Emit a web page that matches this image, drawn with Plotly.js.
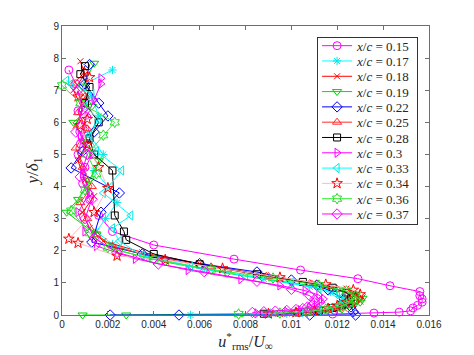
<!DOCTYPE html>
<html>
<head>
<meta charset="utf-8">
<script src="https://cdn.plot.ly/plotly-3.0.1.min.js"></script>
<style>html,body{margin:0;padding:0;background:#fff;}#chart{width:474px;height:355px;}</style>
</head>
<body>
<div id="chart"></div>
<script>
// Series labels (x/c stations)
const labels = ["0.15","0.17","0.18","0.19","0.22","0.25","0.28","0.3","0.33","0.34","0.36","0.37"];

// u*_rms/U_inf values (x) and y/delta1 values (y) per station
const u015 = [0.0118,0.0136,0.0147,0.0152,0.0153,0.0155,0.0157,0.0157,0.0156,0.0156,0.0143,0.0129,0.0104,0.0075,0.0040,0.0022,0.0016,0.0012,0.0009,0.0010,0.0007,0.0008,0.0010,0.0007,0.0012,0.0006,0.0003];
const y015 = [0.03,0.06,0.09,0.13,0.22,0.30,0.40,0.50,0.60,0.73,0.91,1.13,1.40,1.74,2.18,2.6,3.1,3.6,4.1,4.6,5.0,5.33,5.8,6.36,6.8,7.2,7.63];

const u017 = [0.0056,0.0098,0.0110,0.0116,0.0120,0.0122,0.0123,0.0121,0.0117,0.0108,0.0088,0.0062,0.0038,0.0022,0.0015,0.0019,0.0024,0.0020,0.0014,0.0018,0.0012,0.0016,0.0013,0.0010,0.0022];
const y017 = [0.0,0.04,0.08,0.14,0.22,0.32,0.45,0.58,0.72,0.88,1.12,1.45,1.8,2.2,2.6,3.0,3.5,4.0,4.5,5.0,5.6,6.2,6.8,7.2,7.63];

const u018 = [0.0095,0.0108,0.0117,0.0123,0.0127,0.0130,0.0131,0.0129,0.0124,0.0110,0.0088,0.0060,0.0035,0.0018,0.0012,0.0009,0.0014,0.0010,0.0007,0.0011,0.0006,0.0009,0.0005,0.0010,0.0008];
const y018 = [0.03,0.07,0.12,0.2,0.3,0.42,0.55,0.68,0.82,1.0,1.25,1.6,1.95,2.3,2.7,3.2,3.7,4.2,4.8,5.3,5.9,6.4,7.0,7.5,7.9];

const u019 = [0.0009,0.0028,0.0090,0.0112,0.0122,0.0127,0.0130,0.0131,0.0128,0.0120,0.0100,0.0072,0.0045,0.0025,0.0015,0.0002,0.0007,0.0012,0.0016,0.0010,0.0005,0.0013,0.0009,0.0014];
const y019 = [0.0,0.0,0.05,0.1,0.18,0.28,0.4,0.52,0.65,0.8,1.0,1.3,1.65,2.0,2.5,3.2,3.6,4.2,4.8,5.4,6.0,6.5,7.1,7.84];

const u022 = [0.0021,0.0051,0.0108,0.0128,0.0127,0.0126,0.0124,0.0123,0.0116,0.0111,0.0100,0.0085,0.0060,0.0035,0.0013,0.0017,0.0025,0.0004,0.0009,0.0014,0.0020,0.0016,0.0010,0.0012];
const y022 = [0.0,0.0,0.0,0.0,0.1,0.25,0.38,0.5,0.78,0.93,1.09,1.34,1.6,1.9,2.27,3.2,3.8,4.58,5.1,5.7,6.2,6.6,7.2,7.8];

const u025 = [0.0092,0.0105,0.0113,0.0119,0.0123,0.0126,0.0127,0.0125,0.0120,0.0108,0.0090,0.0065,0.0040,0.0022,0.0015,0.0011,0.0008,0.0013,0.0009,0.0006,0.0011,0.0007,0.0010,0.0005,0.0010];
const y025 = [0.04,0.08,0.13,0.2,0.3,0.4,0.52,0.65,0.8,0.98,1.2,1.5,1.8,2.15,2.5,3.0,3.5,4.0,4.6,5.2,5.8,6.3,6.8,7.2,7.57];

const u028 = [0.0088,0.0103,0.0112,0.0118,0.0122,0.0125,0.0126,0.0124,0.0118,0.0105,0.0085,0.0060,0.0040,0.0028,0.0027,0.0023,0.0022,0.0014,0.0012,0.0016,0.0010,0.0012,0.0008,0.0010];
const y028 = [0.04,0.08,0.14,0.22,0.32,0.43,0.55,0.7,0.85,1.03,1.27,1.58,1.9,2.34,2.6,3.1,4.5,5.0,5.5,6.0,6.6,7.1,7.5,7.75];

const u030 = [0.0085,0.0098,0.0104,0.0108,0.0111,0.0113,0.0114,0.0112,0.0106,0.0095,0.0078,0.0055,0.0032,0.0015,0.0010,0.0007,0.0012,0.0009,0.0013,0.0008,0.0011,0.0014,0.0017,0.0017];
const y030 = [0.05,0.1,0.15,0.22,0.3,0.4,0.5,0.62,0.76,0.92,1.12,1.4,1.75,2.15,2.6,3.2,3.8,4.4,5.0,5.6,6.2,6.7,7.2,7.37];

const u033 = [0.0090,0.0104,0.0112,0.0117,0.0121,0.0123,0.0122,0.0119,0.0112,0.0100,0.0080,0.0056,0.0035,0.0025,0.0022,0.0030,0.0018,0.0026,0.0015,0.0012,0.0016,0.0010,0.0013,0.0004,0.0002];
const y033 = [0.05,0.09,0.15,0.22,0.32,0.43,0.55,0.68,0.83,1.0,1.22,1.5,1.85,2.3,2.7,3.1,3.8,4.5,5.1,5.6,6.1,6.5,6.9,7.2,7.3];

const u034 = [0.0090,0.0102,0.0110,0.0116,0.0120,0.0124,0.0128,0.0130,0.0127,0.0115,0.0095,0.0070,0.0045,0.0024,0.0007,0.0003,0.0014,0.0020,0.0016,0.0011,0.0008,0.0011,0.0007,0.0012];
const y034 = [0.04,0.08,0.13,0.2,0.29,0.4,0.52,0.64,0.78,0.95,1.17,1.45,1.72,1.84,2.24,2.37,3.2,3.95,4.6,5.3,5.9,6.1,6.8,7.4];

const u036 = [0.0077,0.0095,0.0107,0.0115,0.0121,0.0125,0.0127,0.0128,0.0124,0.0112,0.0092,0.0065,0.0040,0.0020,0.0012,0.0004,0.0010,0.0015,0.0011,0.0018,0.0023,0.0008,0.0000];
const y036 = [0.03,0.06,0.11,0.18,0.26,0.36,0.47,0.6,0.75,0.93,1.15,1.42,1.73,2.1,2.55,3.25,3.9,4.4,5.0,5.6,6.0,6.6,7.15];

const u037 = [0.0083,0.0088,0.0093,0.0098,0.0102,0.0105,0.0107,0.0109,0.0110,0.0110,0.0108,0.0100,0.0085,0.0062,0.0042,0.0024,0.0014,0.0010,0.0013,0.0008,0.0011,0.0006,0.0009,0.0007];
const y037 = [0.08,0.1,0.12,0.14,0.17,0.2,0.25,0.3,0.38,0.48,0.6,0.8,1.05,1.35,1.59,1.95,2.4,3.0,3.6,4.3,5.0,5.7,6.4,7.0];

const xTicks = [0,0.002,0.004,0.006,0.008,0.01,0.012,0.014,0.016];
const xTickText = ["0","0.002","0.004","0.006","0.008","0.01","0.012","0.014","0.016"];
const yTicks = [0,1,2,3,4,5,6,7,8,9];

const us = [u015,u017,u018,u019,u022,u025,u028,u030,u033,u034,u036,u037];
const ys = [y015,y017,y018,y019,y022,y025,y028,y030,y033,y034,y036,y037];
const lineColors = ['#ff00ff','#00ffff','#ff0000','#00e000','#0000ff','#ff2a2a','#000000','#ff00ff','#00ffff','#ffb6c1','#33ee33','#ff00ff'];
const markColors = ['#ff00ff','#00e8e8','#ff0000','#00d000','#0000ff','#ff2a2a','#000000','#ff00ff','#00e8e8','#ff0000','#22dd22','#ff00ff'];
const symbols = ['circle-open','asterisk-open','x-thin-open','triangle-down-open','diamond-open','triangle-up-open','square-open','triangle-right-open','triangle-left-open','star-open','hexagram-open','diamond-open'];
const sizes = [8,7,6,8,8,8,7,8,8,8,8,8];

const traces = labels.map((lab,i)=>({
  x: us[i], y: ys[i], type:'scatter', mode:'lines+markers',
  name: '<i>x</i>/<i>c</i> = ' + lab,
  cliponaxis:false,
  line:{color: lineColors[i], width:1},
  marker:{symbol: symbols[i], size: sizes[i], color: markColors[i], line:{color: markColors[i], width:1}}
}));

const axisCommon = {
  showline:true, linecolor:'#6e6e6e', linewidth:1, mirror:'ticks',
  ticks:'inside', ticklen:4, tickcolor:'#6e6e6e', showgrid:false, zeroline:false,
  tickfont:{family:'Liberation Sans, Arial, sans-serif', size:10, color:'#262626'}
};

const layout = {
  width:474, height:355,
  margin:{l:62, r:45, t:26, b:40},
  paper_bgcolor:'#ffffff', plot_bgcolor:'#ffffff',
  showlegend:true,
  xaxis: Object.assign({}, axisCommon, {
    range:[0,0.016], tickvals:xTicks, ticktext:xTickText,
    title:{text:'<i>u</i><sup>*</sup><sub>rms</sub>/<i>U</i><sub>∞</sub>', font:{family:'Liberation Serif, DejaVu Serif, serif', size:16, color:'#262626'}, standoff:4}
  }),
  yaxis: Object.assign({}, axisCommon, {
    range:[0,9], tickvals:yTicks,
    title:{text:'<i>y</i>/<i>δ</i><sub>1</sub>', font:{family:'Liberation Serif, DejaVu Serif, serif', size:17, color:'#262626'}, standoff:10}
  }),
  legend:{
    x:0.695, y:0.962, xanchor:'left', yanchor:'top',
    bgcolor:'#ffffff', bordercolor:'#333333', borderwidth:1,
    font:{family:'Liberation Serif, DejaVu Serif, serif', size:13, color:'#262626'},
    tracegroupgap:0, itemwidth:30
  }
};

Plotly.newPlot('chart', traces, layout, {staticPlot:true, displayModeBar:false}).then(gd => {
  // tighten legend row spacing to match the reference (Plotly enforces a 19px minimum row)
  const leg = gd.querySelector('.legend');
  if (!leg) return;
  const items = leg.querySelectorAll('.traces');
  const firstY = 8.7, step = 15.3;
  items.forEach((it, i) => it.setAttribute('transform', 'translate(0,' + (firstY + i * step) + ')'));
  const bg = leg.querySelector('rect.bg');
  const h = firstY + (items.length - 1) * step + 10;
  if (bg) bg.setAttribute('height', h);
});
</script>
</body>
</html>
